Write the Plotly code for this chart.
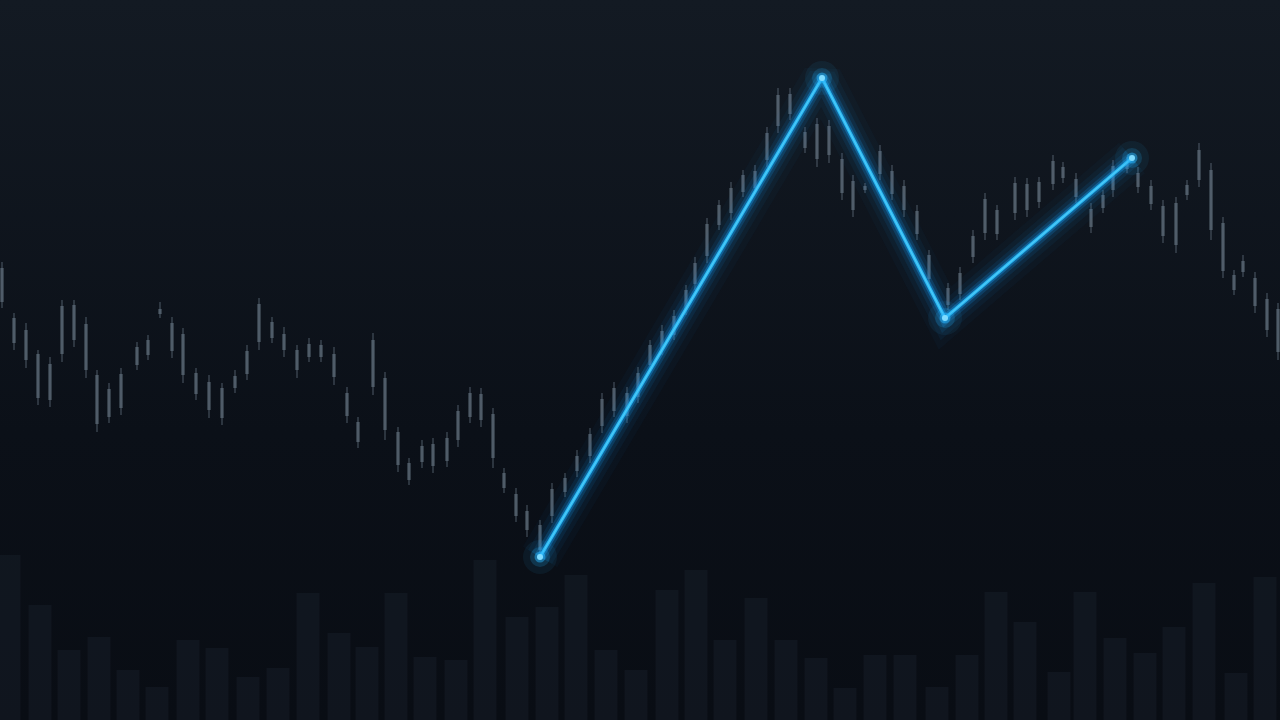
import plotly.graph_objects as go

# ---- candle data (time position, price) ----
t = [2, 14, 26, 38, 50, 62, 74, 86, 97, 109,
     121, 137, 148, 160, 172, 183, 196, 209, 222, 235,
     247, 259, 272, 284, 297, 309, 321, 334, 347, 358,
     373, 385, 398, 409, 422, 433, 447, 458, 470, 481,
     493, 504, 516, 527, 540, 552, 565, 577, 590, 602,
     614, 627, 638, 650, 662, 674, 686, 695, 707, 719,
     731, 743, 755, 767, 778, 790, 805, 817, 829, 842,
     853, 865, 880, 892, 904, 917, 929, 948, 960, 973,
     985, 997, 1015, 1027, 1039, 1053, 1063, 1076, 1091, 1103,
     1113, 1127, 1138, 1151, 1163, 1176, 1187, 1199, 1211, 1223,
     1234, 1243, 1255, 1267, 1278]

high = [458, 407, 397, 370, 363, 420, 420, 403, 350, 337,
        352, 378, 385, 418, 403, 392, 352, 345, 337, 350,
        375, 422, 403, 393, 375, 382, 380, 373, 333, 303,
        387, 348, 293, 262, 280, 282, 288, 315, 333, 332,
        312, 252, 232, 215, 200, 237, 247, 270, 292, 327,
        338, 333, 353, 380, 395, 410, 435, 463, 502, 520,
        538, 550, 555, 593, 632, 632, 593, 602, 600, 567,
        545, 537, 575, 555, 540, 515, 470, 437, 453, 490,
        527, 515, 543, 542, 543, 565, 558, 547, 517, 530,
        560, 563, 553, 540, 520, 523, 540, 577, 557, 503,
        450, 465, 448, 427, 417]

low = [412, 370, 352, 315, 313, 358, 373, 342, 288, 297,
       305, 350, 360, 402, 362, 337, 320, 302, 295, 327,
       340, 370, 377, 363, 342, 358, 358, 335, 297, 272,
       325, 280, 248, 235, 252, 247, 253, 273, 297, 293,
       252, 227, 198, 183, 163, 197, 223, 243, 257, 287,
       303, 297, 317, 350, 365, 380, 405, 430, 457, 490,
       500, 523, 527, 553, 587, 600, 567, 553, 557, 520,
       503, 527, 540, 520, 503, 480, 435, 410, 420, 457,
       480, 480, 500, 503, 512, 530, 537, 517, 487, 507,
       523, 547, 527, 510, 477, 467, 520, 533, 480, 442,
       425, 443, 407, 383, 360]

open_ = [452, 402, 390, 366, 356, 414, 415, 396, 345, 331,
         346, 373, 380, 411, 397, 386, 347, 338, 332, 344,
         369, 416, 398, 386, 370, 376, 375, 366, 327, 298,
         380, 342, 288, 257, 274, 276, 282, 309, 327, 326,
         306, 247, 226, 209, 195, 231, 242, 264, 286, 321,
         332, 327, 347, 375, 389, 404, 430, 457, 496, 515,
         532, 545, 549, 587, 625, 626, 588, 596, 594, 561,
         539, 534, 569, 549, 534, 509, 465, 432, 447, 484,
         521, 510, 537, 536, 538, 559, 553, 541, 511, 525,
         554, 558, 547, 534, 514, 517, 535, 570, 550, 497,
         445, 459, 442, 421, 411]

close_ = [418, 377, 360, 322, 320, 366, 380, 350, 296, 303,
          312, 355, 365, 406, 369, 345, 326, 310, 302, 332,
          346, 378, 382, 370, 350, 363, 363, 343, 304, 278,
          333, 290, 255, 240, 258, 254, 259, 280, 303, 300,
          262, 232, 204, 190, 170, 204, 228, 249, 264, 294,
          309, 304, 323, 355, 371, 385, 410, 436, 464, 495,
          507, 528, 532, 560, 594, 606, 572, 561, 565, 527,
          510, 530, 546, 526, 510, 486, 441, 415, 426, 463,
          487, 486, 507, 510, 518, 536, 542, 523, 493, 512,
          530, 551, 533, 516, 484, 475, 525, 540, 490, 449,
          430, 448, 414, 390, 368]

# ---- volume ----
vol_t = [9, 40, 69, 99, 128, 157, 188, 217, 248, 278,
         308, 339, 367, 396, 425, 456, 485, 517, 547, 576,
         606, 636, 667, 696, 725, 756, 786, 816, 845, 875,
         905, 937, 967, 996, 1025, 1059, 1085, 1115, 1145, 1174,
         1204, 1236, 1265]
volume = [165, 115, 70, 83, 50, 33, 80, 72, 43, 52,
          127, 87, 73, 127, 63, 60, 160, 103, 113, 145,
          70, 50, 130, 150, 80, 122, 80, 62, 32, 65,
          65, 33, 65, 128, 98, 48, 128, 82, 67, 93,
          137, 47, 143]

# ---- zigzag pivots ----
zz_t = [540, 822, 945, 1132]
zz_price = [163, 642, 402, 562]

X_RANGE = [0, 1280]
Y_RANGE = [0, 720]


def segments(xs, y0s, y1s):
    """Vertical segments separated by gaps (None)."""
    sx, sy = [], []
    for x, a, b in zip(xs, y0s, y1s):
        sx += [x, x, None]
        sy += [a, b, None]
    return sx, sy


fig = go.Figure()

# background gradient
fig.add_trace(go.Scatter(
    x=[X_RANGE[0], X_RANGE[1], X_RANGE[1], X_RANGE[0], X_RANGE[0]],
    y=[Y_RANGE[0], Y_RANGE[0], Y_RANGE[1], Y_RANGE[1], Y_RANGE[0]],
    mode="none", fill="toself",
    fillgradient=dict(type="vertical", start=Y_RANGE[0], stop=Y_RANGE[1],
                      colorscale=[[0, "#090d14"], [0.4, "#0b1018"], [1, "#131a23"]]),
    hoverinfo="skip"))

# volume bars (thick vertical strokes from zero)
vx, vy = segments(vol_t, [0] * len(volume), volume)
fig.add_trace(go.Scatter(
    x=vx, y=vy, mode="lines",
    line=dict(color="rgba(30,40,52,0.32)", width=23),
    hoverinfo="skip"))

# candle wicks
wx, wy = segments(t, low, high)
fig.add_trace(go.Scatter(
    x=wx, y=wy, mode="lines",
    line=dict(color="rgba(120,136,150,0.42)", width=1.5),
    hoverinfo="skip"))
# candle bodies
bx, by = segments(t, open_, close_)
fig.add_trace(go.Scatter(
    x=bx, y=by, mode="lines",
    line=dict(color="rgba(118,134,148,0.48)", width=3.6),
    hoverinfo="skip"))

# glowing zigzag line
glow = [(40, 0.035), (28, 0.06), (19, 0.10), (12, 0.2), (7, 0.38)]
for w, a in glow:
    fig.add_trace(go.Scatter(
        x=zz_t, y=zz_price, mode="lines",
        line=dict(color=f"rgba(20,150,235,{a})", width=w),
        hoverinfo="skip"))
fig.add_trace(go.Scatter(
    x=zz_t, y=zz_price, mode="lines",
    line=dict(color="#28b9f2", width=3.4),
    hoverinfo="skip"))
fig.add_trace(go.Scatter(
    x=zz_t, y=zz_price, mode="lines",
    line=dict(color="rgba(120,215,255,0.5)", width=1.2),
    hoverinfo="skip"))
# vertex glow dots
for s, a in [(34, 0.07), (20, 0.18), (11, 0.5)]:
    fig.add_trace(go.Scatter(
        x=zz_t, y=zz_price, mode="markers",
        marker=dict(size=s, color=f"rgba(40,180,250,{a})", line_width=0),
        hoverinfo="skip"))
fig.add_trace(go.Scatter(
    x=zz_t, y=zz_price, mode="markers",
    marker=dict(size=6, color="#7fdcff", line_width=0),
    hoverinfo="skip"))

fig.update_layout(
    width=1280, height=720,
    margin=dict(l=0, r=0, t=0, b=0),
    paper_bgcolor="#0b1017", plot_bgcolor="#0b1017",
    showlegend=False,
    xaxis=dict(range=X_RANGE, visible=False, fixedrange=True),
    yaxis=dict(range=Y_RANGE, visible=False, fixedrange=True),
)

fig.write_html(
    "out.html",
    config={"displayModeBar": False},
    post_script="document.body.style.margin='0';document.body.style.overflow='hidden';"
                "document.body.style.background='#0b1017';",
)
